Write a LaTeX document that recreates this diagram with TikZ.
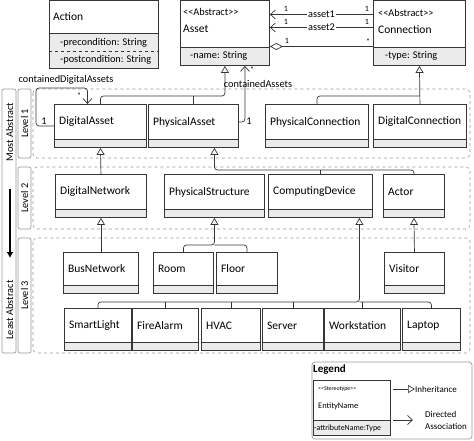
\documentclass[tikz,border=0pt]{standalone}
\usepackage{fontspec}
\setmainfont{Carlito}
\usepackage{tikz}
\usetikzlibrary{arrows.meta}

\definecolor{boxline}{HTML}{363636}
\definecolor{attrfill}{HTML}{EBEBEB}
\definecolor{framegray}{HTML}{9A9A9A}

\newcommand{\namefont}{\fontsize{11.5}{13}\selectfont}
\newcommand{\labelfont}{\fontsize{10.3}{12}\selectfont}
\newcommand{\multfont}{\fontsize{8}{9}\selectfont}
\newcommand{\stereo}[1]{<\kern0pt<#1>\kern0pt>}

% class box: name, x, y, width, height, text
\newcommand{\umlclass}[6]{%
  \node[classbox, minimum width=#4pt, minimum height=#5pt] (#1) at (#2,#3) {};
  \node[classname] (#1-name) at ([xshift=5pt,yshift=4pt]#1.west) {#6};
}

\begin{document}
\begin{tikzpicture}[x=1pt, y=-1pt,
    classbox/.style={draw=boxline, line width=0.9pt, fill=white, anchor=north west, inner sep=0pt,
      path picture={\fill[attrfill] (path picture bounding box.south west) rectangle ([yshift=#1]path picture bounding box.south east);
        \draw[boxline, line width=0.9pt] ([yshift=#1]path picture bounding box.south west) -- ([yshift=#1]path picture bounding box.south east);}},
    classbox/.default=8pt,
    classname/.style={anchor=west, inner sep=0pt, font=\namefont},
    attrtext/.style={anchor=west, inner sep=0pt, font=\labelfont},
    mult/.style={inner sep=0pt, font=\multfont},
    linelabel/.style={fill=white, inner sep=1pt, font=\labelfont},
    wire/.style={draw=boxline, line width=0.7pt, rounded corners=3pt},
    inherit/.style={wire, -{Triangle[open, length=7pt, width=8pt]}},
    assoc/.style={wire, -{Straight Barb[length=5pt, width=9pt]}},
    levelframe/.style={draw=framegray, dashed, line width=0.6pt, rounded corners=4pt},
    tab/.style={draw=framegray, line width=0.7pt, rounded corners=2pt},
    tabtext/.style={rotate=90, inner sep=0pt, font=\labelfont}]
\useasboundingbox (0,0) rectangle (474,441);

% levels
\draw[levelframe] (33,89) rectangle (470,158);
\draw[levelframe] (33,167) rectangle (470,229);
\draw[levelframe] (33,238) rectangle (470,353);
\draw[tab] (2,89) rectangle (16,353);
\draw[tab] (18,89) rectangle (31,158);
\draw[tab] (18,167) rectangle (31,229);
\draw[tab] (18,238) rectangle (31,353);
\node[tabtext] (most) at (9.5,132) {Most Abstract};
\node[tabtext] (least) at (9.5,310) {Least Abstract};
\node[tabtext] (lv1) at (24.5,123.5) {Level 1};
\node[tabtext] (lv2) at (24.5,198) {Level 2};
\node[tabtext] (lv3) at (24.5,295.5) {Level 3};
\coordinate (arrtop) at (10,189);
\coordinate (arrbot) at (10,258);
\draw[line width=1.4pt, -{Latex[length=6pt, width=7pt]}] (arrtop) -- (arrbot);

% top classes
\node[classbox=35pt, minimum width=109pt, minimum height=68pt] (action) at (49,0.5) {};
\node[classname] (action-name) at (53,17) {Action};
\draw[boxline, dashed, line width=0.5pt] ([yshift=-51pt]action.north west) -- ([yshift=-51pt]action.north east);
\node[attrtext] (action-pre) at (60,43) {-precondition: String};
\node[attrtext] (action-post) at (60,60) {-postcondition: String};

\node[classbox=18pt, minimum width=89pt, minimum height=64.5pt] (asset) at (180,0.5) {};
\node[attrtext] (asset-st) at (183,12) {\stereo{Abstract}};
\node[classname] (asset-name) at (183,29) {Asset};
\node[attrtext] (asset-attr) at (190,56) {-name: String};

\node[classbox=18pt, minimum width=92pt, minimum height=64.5pt] (conn) at (373,0.5) {};
\node[attrtext] (conn-st) at (378,13) {\stereo{Abstract}};
\node[classname] (conn-name) at (378,30) {Connection};
\node[attrtext] (conn-attr) at (385,56) {-type: String};

\draw[assoc] ([yshift=-14pt]conn.north west) -- node[linelabel] (asset1) {asset1} ([yshift=-14pt]asset.north east);
\draw[assoc] ([yshift=-27pt]conn.north west) -- node[linelabel] (asset2) {asset2} ([yshift=-27pt]asset.north east);
\draw[wire, {Diamond[open, length=13pt, width=7pt]}-] ([yshift=-46pt]asset.north east) -- ([yshift=-46pt]conn.north west);
\node[mult] (m1) at (286,9) {1};
\node[mult] (m2) at (367,9) {1};
\node[mult] (m3) at (286,22) {1};
\node[mult] (m4) at (367,22) {1};
\node[mult] (m5) at (287,41) {1};
\node[mult] (m6) at (368,42) {*};

% level 1
\umlclass{da}{54}{104}{92}{43}{DigitalAsset}
\umlclass{pa}{148}{104}{90}{43}{PhysicalAsset}
\umlclass{pc}{265}{104}{103}{43}{PhysicalConnection}
\umlclass{dc}{373}{104}{93}{43}{DigitalConnection}

% level 2
\umlclass{dn}{55}{174}{91}{43}{DigitalNetwork}
\umlclass{ps}{164}{174}{100}{43}{PhysicalStructure}
\umlclass{cd}{268}{174}{104}{43}{ComputingDevice}
\umlclass{ac}{383}{174}{61}{43}{Actor}

% level 3
\umlclass{bn}{63}{252}{75}{41}{BusNetwork}
\umlclass{room}{153}{252}{60}{41}{Room}
\umlclass{floor}{216}{252}{61}{41}{Floor}
\umlclass{vis}{384}{252}{60}{41}{Visitor}
\umlclass{sl}{64}{308}{67}{42}{SmartLight}
\umlclass{fa}{132}{308}{66}{42}{FireAlarm}
\umlclass{hvac}{201}{308}{59}{42}{HVAC}
\umlclass{srv}{262}{308}{61}{42}{Server}
\umlclass{ws}{324}{308}{76}{42}{Workstation}
\umlclass{lap}{402}{308}{58}{42}{Laptop}

% inheritance
\coordinate (bus1) at (0,96);
\coordinate (bus2) at (0,170);
\coordinate (bus3) at (0,245);
\coordinate (bus4) at (0,302);
\coordinate (cdleg) at ([xshift=39pt]cd.south);
\draw[inherit] (da.north) |- (bus1 -| asset.south) -- (asset.south);
\draw[wire] (pa.north) -- (pa.north |- bus1);
\draw[inherit] (dc.north) -- (conn.south);
\draw[wire] (pc.north) |- (bus1 -| dc.north);
\draw[inherit] (dn.north) -- (da.south);
\draw[inherit] (ac.north) |- (bus2 -| ps.north) -- (ps.north |- pa.south);
\draw[wire] (cd.north) -- (cd.north |- bus2);
\draw[inherit] (bn.north) -- (dn.south);
\draw[inherit] (room.north) |- (bus3 -| ps.south) -- (ps.south);
\draw[wire] (floor.north) |- (bus3 -| ps.south);
\draw[inherit] (vis.north) -- (ac.south);
\draw[inherit] (sl.north) |- (bus4 -| cdleg) -- (cdleg);
\draw[wire] (lap.north) |- (bus4 -| cdleg);
\foreach \n in {fa,hvac,srv,ws}
  \draw[wire] (\n.north) -- (\n.north |- bus4);

% containment
\draw[assoc] ([yshift=4pt]pa.east) -| ([xshift=20pt]asset.south);
\node[mult] (m7) at (252,70) {*};
\node[mult, font=\labelfont] (m8) at (249,121) {1};
\node[linelabel, fill=none] (ca) at (258,84) {containedAssets};
\draw[assoc] (da.west) -- ++(-18,0) |- ([xshift=-13pt,yshift=16pt]da.north) -- ([xshift=-13pt]da.north);
\node[mult] (m9) at (79,96) {*};
\node[mult, font=\labelfont] (m10) at (44,121) {1};
\node[linelabel, fill=none] (cda) at (66,80) {containedDigitalAssets};

% legend
\draw[framegray, line width=0.7pt, rounded corners=3pt] (312,362) rectangle (472,439);
\node[anchor=west, inner sep=0pt, font=\fontsize{11}{13}\selectfont\bfseries] (legend) at (313,370) {Legend};
\node[classbox=15pt, minimum width=77pt, minimum height=55pt] (legcls) at (313,380) {};
\node[anchor=west, inner sep=0pt, font=\fontsize{5.9}{7}\selectfont] (leg-st) at (318,389) {\stereo{Stereotype}};
\node[anchor=west, inner sep=0pt, font=\fontsize{8.4}{10}\selectfont] (leg-name) at (318,406) {EntityName};
\node[anchor=west, inner sep=0pt, font=\fontsize{7.9}{9}\selectfont] (leg-attr) at (314,428) {-attributeName:Type};
\node[anchor=west, inner sep=0pt, font=\fontsize{9}{10}\selectfont] (leg-inh) at (415,389) {Inheritance};
\node[anchor=west, inner sep=0pt, align=left, font=\fontsize{9}{12}\selectfont] (leg-da) at (425,420) {Directed\\Association};
\draw[inherit] (leg-inh.west -| legcls.east) ++(2,0) -- (leg-inh.west);
\draw[assoc] ([xshift=2pt]legcls.east |- leg-da.west) -- ([xshift=-12pt]leg-da.west);
\end{tikzpicture}
\end{document}
